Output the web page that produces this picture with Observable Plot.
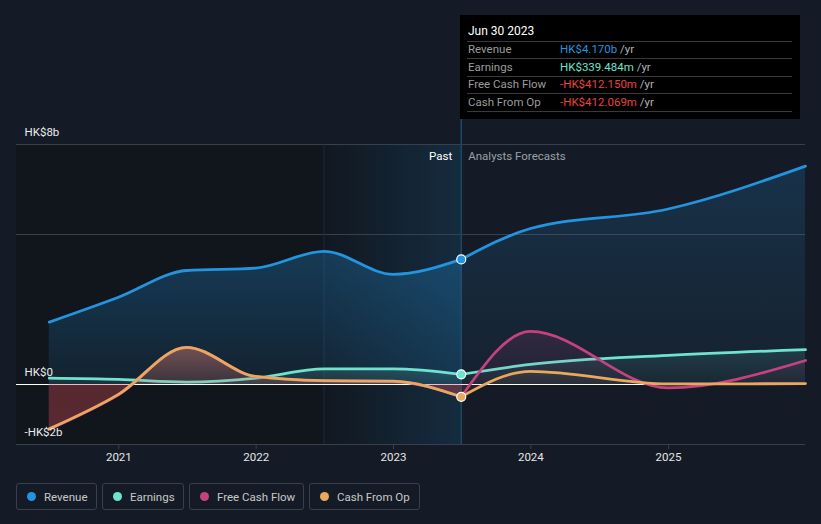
<!DOCTYPE html>
<html>
<head>
<meta charset="utf-8">
<script src="https://cdn.jsdelivr.net/npm/d3@7"></script>
<script src="https://cdn.jsdelivr.net/npm/@observablehq/plot@0.6"></script>
<style>
html, body { margin: 0; padding: 0; background: #151b26; }
body { width: 821px; height: 524px; position: relative; overflow: hidden; font-family: Roboto, "Noto Sans", sans-serif; }
#chart { position: absolute; left: 0; top: 0; }
#tip { position: absolute; left: 460px; top: 15px; width: 340px; height: 104px; background: #000; }
#tip .row { position: absolute; left: 8px; height: 16px; line-height: 16px; font-size: 11.5px; white-space: nowrap; }
#tip .lab { color: #9c9c9c; position: absolute; left: 0; }
#tip .val { position: absolute; left: 92px; }
#tip .unit { color: #b4b4b4; }
#tip .sep { position: absolute; left: 7px; width: 325px; height: 1px; background: #3a3a3a; }
#tip .title { position: absolute; left: 8px; top: 8px; color: #fff; font-size: 12px; line-height: 16px; }
#legend { position: absolute; left: 16px; top: 483px; display: flex; gap: 5px; }
#legend .item { box-sizing: border-box; height: 27px; border: 1px solid #3a404c; border-radius: 3px; display: flex; align-items: center; padding-left: 10px; color: #c8c8c8; font-size: 11.5px; white-space: nowrap; }
#legend .dot { width: 9px; height: 9px; border-radius: 50%; margin-right: 8px; flex: none; }
</style>
</head>
<body>
<div id="chart"></div>
<div id="tip"></div>
<div id="legend"></div>
<script>
// ---------- data (HK$ billions) ----------
const pastDates = ["2020-06-30", "2020-12-31", "2021-06-30", "2021-12-31", "2022-06-30", "2022-12-31", "2023-06-30"];
const forecastDates = ["2023-06-30", "2023-12-31", "2024-12-31", "2025-12-31"];

const revenuePast = [2.08, 2.91, 3.80, 3.88, 4.44, 3.67, 4.17];
const revenueForecast = [4.17, 5.20, 5.85, 7.28];
const earningsPast = [0.21, 0.17, 0.08, 0.21, 0.52, 0.52, 0.34];
const earningsForecast = [0.34, 0.67, 0.97, 1.16];
const fcfPast = [-1.49, -0.34, 1.23, 0.26, 0.12, 0.10, -0.41];
const fcfForecast = [-0.41, 1.77, -0.11, 0.80];
const cfoPast = [-1.48, -0.33, 1.24, 0.27, 0.13, 0.11, -0.41];
const cfoForecast = [-0.41, 0.44, 0.02, 0.03];

const seriesNames = ["Revenue", "Earnings", "Free Cash Flow", "Cash From Op"];
const seriesColors = ["#2394df", "#6ee3cf", "#c4427f", "#e9a85f"];

const yLabelValues = [8, 0, -2];
const yLabelTexts = ["HK$8b", "HK$0", "-HK$2b"];
const gridValues = [8, 5];
const xTickYears = ["2021-01-01", "2022-01-01", "2023-01-01", "2024-01-01", "2025-01-01"];

const tipTitle = "Jun 30 2023";
const tipValues = ["HK$4.170b", "HK$339.484m", "-HK$412.150m", "-HK$412.069m"];
const tipColors = ["#2394df", "#6ee3cf", "#e8433f", "#e8433f"];

const xDomain = [new Date("2020-04-04"), new Date("2025-12-31")];
const bandStart = new Date("2022-06-30");
const pastEnd = new Date("2023-06-30");

// ---------- tidy tables ----------
const rows = (series, dates, values, phase) => dates.map((d, i) => ({series, phase, date: new Date(d), value: values[i]}));
const seriesData = [
  {name: seriesNames[0], color: seriesColors[0], grad: "g-rev", past: rows(seriesNames[0], pastDates, revenuePast, "past"), fc: rows(seriesNames[0], forecastDates, revenueForecast, "fc")},
  {name: seriesNames[1], color: seriesColors[1], grad: "g-earn", past: rows(seriesNames[1], pastDates, earningsPast, "past"), fc: rows(seriesNames[1], forecastDates, earningsForecast, "fc")},
  {name: seriesNames[2], color: seriesColors[2], grad: "g-fcf", past: rows(seriesNames[2], pastDates, fcfPast, "past"), fc: rows(seriesNames[2], forecastDates, fcfForecast, "fc")},
  {name: seriesNames[3], color: seriesColors[3], grad: "g-cfo", past: rows(seriesNames[3], pastDates, cfoPast, "past"), fc: rows(seriesNames[3], forecastDates, cfoForecast, "fc")}
];

const seriesMarks = [];
for (const s of seriesData) {
  seriesMarks.push(Plot.areaY(s.past, {x: "date", y: "value", curve: "monotone-x", fill: `url(#${s.grad})`}));
  seriesMarks.push(Plot.areaY(s.fc, {x: "date", y: "value", curve: "monotone-x", fill: `url(#${s.grad})`, fillOpacity: 0.45}));
  seriesMarks.push(Plot.line(s.past, {x: "date", y: "value", curve: "monotone-x", stroke: s.color, strokeWidth: 2.8}));
  seriesMarks.push(Plot.line(s.fc, {x: "date", y: "value", curve: "monotone-x", stroke: s.color, strokeWidth: 2.8}));
}
const lastPoints = seriesData.filter(s => s.name !== "Free Cash Flow").map(s => ({date: pastEnd, value: s.past[s.past.length - 1].value, color: s.color}));

const svg = Plot.plot({
  width: 821,
  height: 470,
  marginLeft: 16,
  marginRight: 16,
  marginTop: 15,
  marginBottom: 26,
  x: {type: "utc", domain: xDomain},
  y: {domain: [-2, 12.3], axis: null},
  style: {background: "transparent", fontFamily: "Roboto, sans-serif", fontSize: "11.5px", overflow: "visible"},
  marks: [
    Plot.rect([{x1: xDomain[0], x2: pastEnd}], {x1: "x1", x2: "x2", y1: -2, y2: 8, fill: "#11151c"}),
    Plot.rect([{x1: bandStart, x2: pastEnd}], {x1: "x1", x2: "x2", y1: -2, y2: 8, fill: "url(#g-band)"}),
    Plot.ruleY(gridValues, {stroke: "#3a404b", strokeWidth: 1}),
    Plot.ruleY([-2], {stroke: "#3a404b", strokeWidth: 1.2}),
    Plot.ruleX([bandStart], {y1: -2, y2: 8, stroke: "#1a2b3e", strokeWidth: 1}),
    Plot.ruleX([pastEnd], {stroke: "#1d4566", strokeWidth: 1.6}),
    Plot.ruleY([0], {stroke: "#ffffff", strokeWidth: 1.2}),
    ...seriesMarks,
    Plot.dot(lastPoints, {x: "date", y: "value", fill: "color", stroke: "#ffffff", strokeWidth: 1.2, r: 4.5}),
    Plot.axisX(xTickYears.map(d => new Date(d)), {tickFormat: "%Y", tickSize: 5, tickPadding: 3, stroke: "#3a404b", fill: "#e6e6e6", fontSize: 11.5}),
    Plot.text(yLabelValues, {y: d => d, text: (d, i) => yLabelTexts[i], frameAnchor: "left", dx: 8, dy: -12, textAnchor: "start", fill: "#ececec", fontSize: 11.5}),
    Plot.text([pastEnd], {x: d => d, y: 8, text: ["Past"], dx: -9, dy: 12, textAnchor: "end", fill: "#ffffff", fontSize: 11.5}),
    Plot.text([pastEnd], {x: d => d, y: 8, text: ["Analysts Forecasts"], dx: 7, dy: 12, textAnchor: "start", fill: "#9aa0a8", fontSize: 11.5})
  ]
});

// ---------- gradients ----------
const ys = svg.scale("y");
const yTop = ys.apply(8), yBot = ys.apply(-2);
const off = v => Math.max(0, Math.min(1, (ys.apply(v) - yTop) / (yBot - yTop)));
const defs = d3.select(svg).insert("defs", ":first-child");
function grad(id, attrs, stops) {
  const g = defs.append("linearGradient").attr("id", id);
  for (const [k, v] of Object.entries(attrs)) g.attr(k, v);
  for (const [o, c, a] of stops) g.append("stop").attr("offset", o).attr("stop-color", c).attr("stop-opacity", a);
}
const vAttrs = {gradientUnits: "userSpaceOnUse", x1: 0, x2: 0, y1: yTop, y2: yBot};
const red = "#d04a55";
grad("g-rev", vAttrs, [[0, seriesColors[0], 0.45], [off(0), seriesColors[0], 0.1]]);
grad("g-earn", vAttrs, [[off(1.5), seriesColors[1], 0.35], [off(0), seriesColors[1], 0.08]]);
grad("g-fcf", vAttrs, [[off(2), seriesColors[2], 0.38], [off(0), seriesColors[2], 0.1], [off(0), red, 0.2], [1, red, 0.22]]);
grad("g-cfo", vAttrs, [[off(2), seriesColors[3], 0.38], [off(0), seriesColors[3], 0.1], [off(0), red, 0.2], [1, red, 0.22]]);
grad("g-band", {x1: 0, x2: 1, y1: 0, y2: 0}, [[0, "#2394df", 0.02], [1, "#2394df", 0.18]]);

document.getElementById("chart").appendChild(svg);

// ---------- tooltip ----------
const tip = document.getElementById("tip");
const sepTops = [26, 43, 61, 78, 96];
const rowCenters = [34, 51.5, 69, 86.5];
tip.insertAdjacentHTML("beforeend", `<div class="title">${tipTitle}</div>`);
sepTops.forEach(t => tip.insertAdjacentHTML("beforeend", `<div class="sep" style="top:${t}px"></div>`));
seriesNames.forEach((n, i) => {
  tip.insertAdjacentHTML("beforeend",
    `<div class="row" style="top:${rowCenters[i] - 8}px;width:320px"><span class="lab">${n}</span><span class="val"><span style="color:${tipColors[i]}">${tipValues[i]}</span> <span class="unit">/yr</span></span></div>`);
});

// ---------- legend ----------
const legendWidths = [81, 82, 115, 111];
const legend = document.getElementById("legend");
seriesNames.forEach((n, i) => {
  legend.insertAdjacentHTML("beforeend",
    `<div class="item" style="width:${legendWidths[i]}px"><span class="dot" style="background:${seriesColors[i]}"></span>${n}</div>`);
});
</script>
</body>
</html>
